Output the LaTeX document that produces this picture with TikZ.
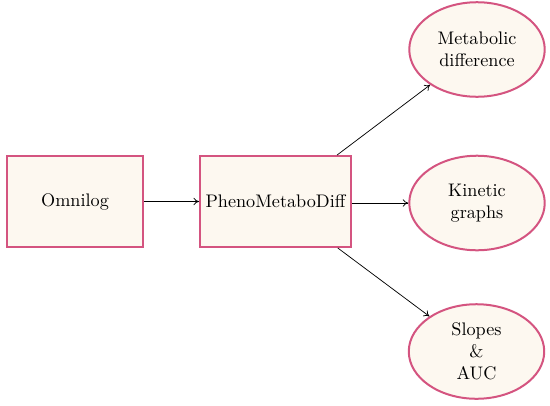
\documentclass[tikz,border=0pt]{standalone}
\usepackage{tikz}
\usetikzlibrary{arrows.meta}
\usetikzlibrary{shapes.geometric}
\usetikzlibrary{positioning}
\definecolor{boxline}{RGB}{212,84,128}
\definecolor{boxfill}{RGB}{253,248,240}
\tikzset{
  toolbox/.style={draw=boxline, fill=boxfill, line width=1.1pt, minimum height=50pt, inner sep=2pt},
  outcome/.style={ellipse, draw=boxline, fill=boxfill, line width=1.1pt, minimum width=74.5pt, minimum height=52pt, inner sep=1pt, align=center},
  flow/.style={-{To[length=3pt,width=4pt]}, thin}
}

\begin{document}
\begin{tikzpicture}[x=0.55pt, y=-0.55pt]
    \useasboundingbox (0,0) rectangle (550,405);
    \node[toolbox, minimum width=74.8pt] (omnilog) at (75,201.5) {Omnilog};
    \node[toolbox, minimum width=83pt] (pheno) at (275.5,201.5) {PhenoMetaboDiff};
    \node[outcome] (metab) at (477,49.5) {Metabolic\\difference};
    \node[outcome] (kinetic) at (477,203) {Kinetic\\graphs};
    \node[outcome] (slopes) at (476.5,351.5) {Slopes\\\&\\AUC};
    \draw[flow] (omnilog) -- (pheno);
    \draw[flow] (pheno) -- (metab);
    \draw[flow] (pheno.east |- kinetic) -- (kinetic);
    \draw[flow] (pheno) -- (slopes);
  \end{tikzpicture}
\end{document}
